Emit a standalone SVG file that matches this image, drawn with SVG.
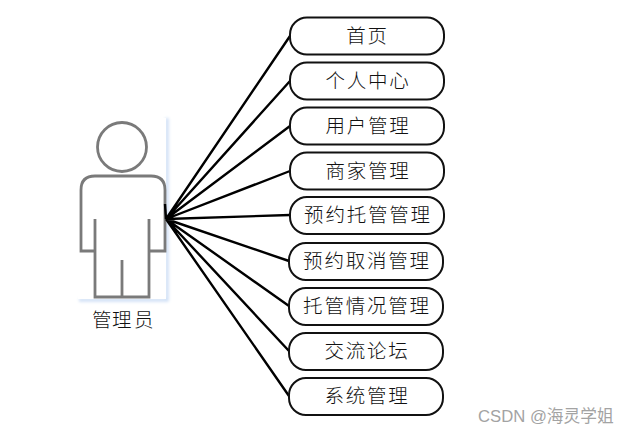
<svg xmlns="http://www.w3.org/2000/svg" width="630" height="434" viewBox="0 0 630 434">
<defs>
<filter id="soft" x="-10%" y="-10%" width="120%" height="120%"><feGaussianBlur stdDeviation="0.7"/></filter>
<filter id="glow" x="-10%" y="-10%" width="120%" height="120%"><feGaussianBlur stdDeviation="1.5"/></filter>
</defs>
<style>
.box{fill:#fff;stroke:#111;stroke-width:2}
.lbl{font-family:"Noto Sans CJK SC","Noto Sans CJK JP",sans-serif;font-size:19.5px;font-weight:300;fill:#111;text-anchor:middle;letter-spacing:1.8px}
.fig{fill:none;stroke:#7a7a7a;stroke-width:2.8;filter:url(#soft)}
.con{fill:none;stroke:#000;stroke-width:2.4}
</style>
<rect width="630" height="434" fill="#fff"/>
<g id="actor">
<path d="M79 300H167V118" fill="none" stroke="#cfe0f6" stroke-width="3.500" filter="url(#glow)"/>
<rect x="78" y="118" width="88" height="181" fill="#fff"/>
<circle class="fig" cx="122" cy="147" r="24.5"/>
<path class="fig" d="M95 219V251H81V190Q81 176 95 176H151Q165 176 165 190V251H149V219M95 251V297H149V251M122 260V297"/>
<text class="lbl" x="92 112 132 134" y="327" style="letter-spacing:0;text-anchor:start">管理 员</text>
</g>
<g id="connectors">
<path class="con" d="M165 204L166 219"/>
<path class="con" d="M166 219L290 36M166 219L290 81M166 219L290 126M166 219L290 171M166 219L290 215M166 219L289 261M166 219L289 306M166 219L289 351M166 219L289 396"/>
</g>
<g id="n1"><rect class="box" x="290" y="17.500" width="154" height="37" rx="17"/><text class="lbl" x="367.500" y="43">首页</text></g>
<g id="n2"><rect class="box" x="290" y="62.500" width="154" height="37" rx="17"/><text class="lbl" x="368" y="88">个人中心</text></g>
<g id="n3"><rect class="box" x="290" y="107.500" width="154" height="37" rx="17"/><text class="lbl" x="368" y="133">用户管理</text></g>
<g id="n4"><rect class="box" x="290" y="152.500" width="154" height="37" rx="17"/><text class="lbl" x="368" y="178">商家管理</text></g>
<g id="n5"><rect class="box" x="290" y="197" width="154" height="37" rx="17"/><text class="lbl" x="368" y="222">预约托管管理</text></g>
<g id="n6"><rect class="box" x="289" y="243" width="154" height="37" rx="17"/><text class="lbl" x="367" y="268">预约取消管理</text></g>
<g id="n7"><rect class="box" x="289" y="288" width="154" height="37" rx="17"/><text class="lbl" x="367" y="313">托管情况管理</text></g>
<g id="n8"><rect class="box" x="289" y="333" width="154" height="37" rx="17"/><text class="lbl" x="367" y="358">交流论坛</text></g>
<g id="n9"><rect class="box" x="289" y="378" width="154" height="37" rx="17"/><text class="lbl" x="367" y="403">系统管理</text></g>
<text x="478" y="422" style="font-family:'Liberation Sans','Noto Sans CJK SC',sans-serif;font-size:16.700px;fill:#a3a3a3">CSDN @海灵学姐</text>
</svg>
